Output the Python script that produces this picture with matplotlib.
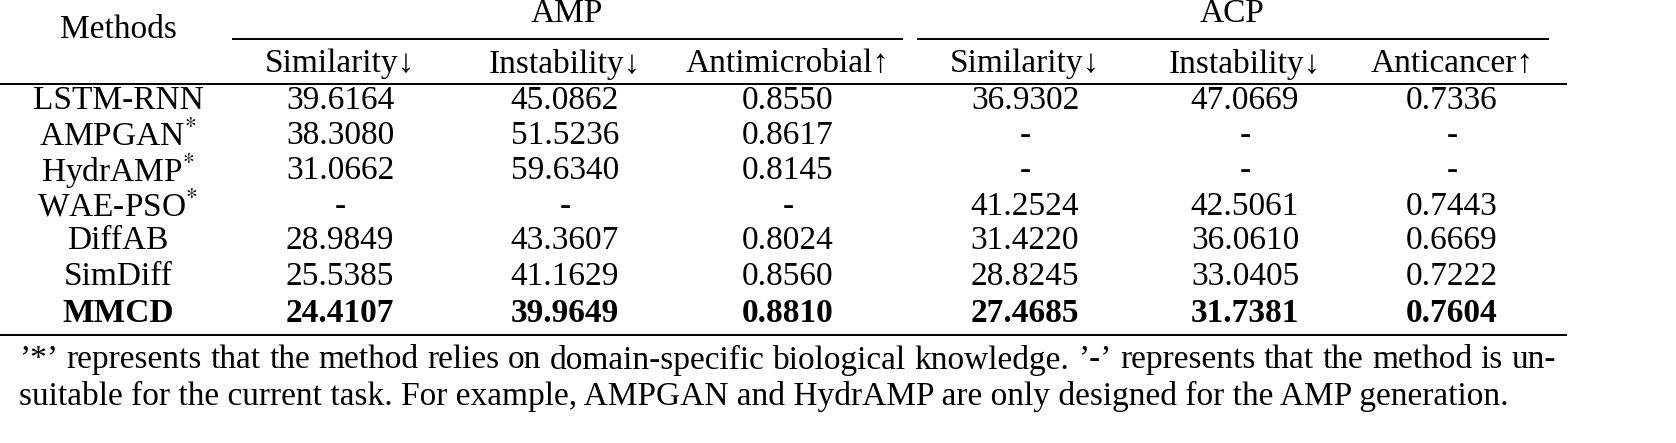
import matplotlib
matplotlib.use("Agg")
import matplotlib.pyplot as plt
from matplotlib.lines import Line2D

plt.rcParams['font.family'] = ['Liberation Serif', 'DejaVu Serif']
plt.rcParams['mathtext.fontset'] = 'stix'

W, H = 1676, 443
groups = ["AMP", "ACP"]
metrics = ["Similarity↓", "Instability↓", "Antimicrobial↑", "Similarity↓", "Instability↓", "Anticancer↑"]
methods = ["LSTM-RNN", "AMPGAN$^{*}$", "HydrAMP$^{*}$", "WAE-PSO$^{*}$", "DiffAB", "SimDiff", "MMCD"]
values = [
    ["39.6164", "45.0862", "0.8550", "36.9302", "47.0669", "0.7336"],
    ["38.3080", "51.5236", "0.8617", "-", "-", "-"],
    ["31.0662", "59.6340", "0.8145", "-", "-", "-"],
    ["-", "-", "-", "41.2524", "42.5061", "0.7443"],
    ["28.9849", "43.3607", "0.8024", "31.4220", "36.0610", "0.6669"],
    ["25.5385", "41.1629", "0.8560", "28.8245", "33.0405", "0.7222"],
    ["24.4107", "39.9649", "0.8810", "27.4685", "31.7381", "0.7604"],
]
footnote = ["’*’ represents that the method relies on domain-specific biological knowledge. ’-’ represents that the method is un-",
            "suitable for the current task. For example, AMPGAN and HydrAMP are only designed for the AMP generation."]

fig = plt.figure(figsize=(W/100, H/100), dpi=100)
fs = 24

def T(x, y, s, **kw):
    return fig.text(x/W, 1-y/H, s, fontsize=kw.pop('fontsize', fs), va='center', **kw)

def L(x0, x1, y, lw=1.4):
    fig.add_artist(Line2D([x0/W, x1/W], [1-y/H, 1-y/H], color='black', lw=lw))

T(118, 30, "Methods", ha='center')
T(567, 14, groups[0], ha='center')
T(1232, 14, groups[1], ha='center')
L(233, 902, 39)
L(918, 1548, 39)
cols = [340, 565, 788, 1025, 1245, 1452]
for x, m in zip(cols, metrics):
    T(x, 64, m, ha='center')
L(0, 1566, 84)
rows = [101, 136, 171, 207, 241, 277, 313]
for i, (y, m) in enumerate(zip(rows, methods)):
    bold = 'bold' if i == len(methods)-1 else 'normal'
    T(118, y, m, ha='center', fontweight=bold)
    for x, v in zip(cols, values[i]):
        T(x, y, v, ha='center', fontweight=bold)
L(0, 1566, 335)

fig.canvas.draw()
r = fig.canvas.get_renderer()
x0, x1 = 19, 1556
words = footnote[0].split(' ')
arts = [T(0, 360, w, ha='left') for w in words]
widths = [a.get_window_extent(r).width for a in arts]
gap = (x1 - x0 - sum(widths)) / (len(words)-1)
x = x0
for a, w in zip(arts, widths):
    a.set_x(x/W)
    x += w + gap
T(x0, 396, footnote[1], ha='left')

fig.savefig("out.png", dpi=100)
